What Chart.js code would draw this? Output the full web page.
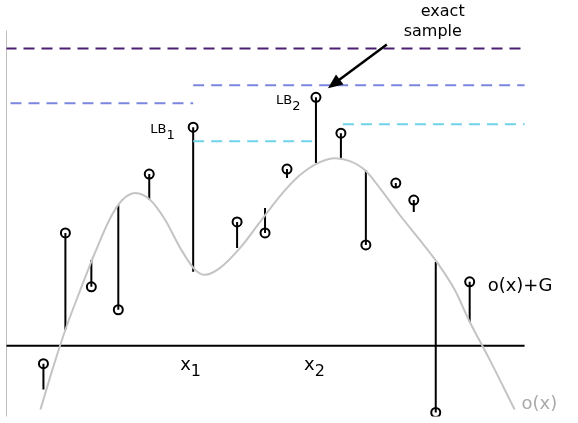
<!DOCTYPE html>
<html><head><script src="https://cdn.jsdelivr.net/npm/chart.js"></script>
<style>body{margin:0;background:#fff}</style></head><body>
<canvas id="c" width="578" height="423"></canvas>
<script>
const curveX=[40,52,65,80,95,110,122,135,150,165,180,195,205,220,240,260,280,300,320,335,350,365,380,400,420,437,455,470,490,515];
const curveY=[410,370,330,290,252,218,200,193,200,220,248,270,275,268,248,222,196,175,162,158,161,170,188,215,240,262,290,322,360,410];
const sampleX=[43,65,91,118,149,193,237,265,287,316,341,366,396,414,436,470];
const sampleY=[364,233,287,310,174,127,222,233,169,97,133,245,183,200,413,282];
const baseY=[390,330,260,205,200,272,248,208,178,163,159,170,188,212,262,322];
const dashes=[
 {y:48,x0:5,x1:525,c:'#4b1f6f'},
 {y:103,x0:10,x1:193,c:'#7b86e0'},
 {y:85,x0:193,x1:525,c:'#7b86e0'},
 {y:141,x0:193,x1:316,c:'#6fd3ea'},
 {y:124,x0:343,x1:525,c:'#6fd3ea'}];
const stems=[];
sampleX.forEach((x,i)=>{stems.push({x,y:sampleY[i]},{x,y:baseY[i]},{x:NaN,y:NaN});});
const ds=[];
ds.push({data:curveX.map((x,i)=>({x,y:curveY[i]})),showLine:true,borderColor:'#c4c4c4',borderWidth:2,pointRadius:0,tension:0.4,cubicInterpolationMode:'monotone'});
dashes.forEach(d=>ds.push({data:[{x:d.x0,y:d.y},{x:d.x1,y:d.y}],showLine:true,borderColor:d.c,borderWidth:2,borderDash:[11,7],pointRadius:0}));
ds.push({data:[{x:5,y:30},{x:5,y:418}],showLine:true,borderColor:'#000',borderWidth:2,pointRadius:0});
ds.push({data:[{x:5,y:346},{x:525,y:346}],showLine:true,borderColor:'#000',borderWidth:2,pointRadius:0});
ds.push({data:stems,showLine:true,spanGaps:false,borderColor:'#000',borderWidth:2,pointRadius:0});
ds.push({data:sampleX.map((x,i)=>({x,y:sampleY[i]})),showLine:false,pointRadius:4.5,pointBackgroundColor:'#fff',pointBorderColor:'#000',pointBorderWidth:2});
const labels={id:'lab',afterDraw(ch){const c=ch.ctx,sx=ch.scales.x,sy=ch.scales.y;
 const P=(x,y)=>[sx.getPixelForValue(x),sy.getPixelForValue(y)];
 c.save();c.fillStyle='#000';c.textBaseline='alphabetic';
 function sub(t,s,x,y,f,fs){c.font=f+'px "DejaVu Sans"';const [px,py]=P(x,y);c.fillText(t,px,py);const w=c.measureText(t).width;c.font=fs+'px "DejaVu Sans"';c.fillText(s,px+w,py+6);}
 sub('x','1',180,370,18,16);sub('x','2',304,370,18,16);
 sub('LB','1',150,133,13,13);sub('LB','2',276,104,13,13);
 c.font='16px "DejaVu Sans"';c.textAlign='center';
 let [a,b]=P(443,16);c.fillText('exact',a,b);[a,b]=P(433,36);c.fillText('sample',a,b);
 c.textAlign='left';c.font='18px "DejaVu Sans"';[a,b]=P(488,291);c.fillText('o(x)+G',a,b);
 c.fillStyle='#aaa';[a,b]=P(522,409);c.fillText('o(x)',a,b);
 c.strokeStyle='#000';c.lineWidth=2.5;const [x0,y0]=P(387,44),[x1,y1]=P(328,88);
 c.beginPath();c.moveTo(x0,y0);c.lineTo(x1+8,y1-6);c.stroke();
 const ang=Math.atan2(y1-y0,x1-x0);c.fillStyle='#000';c.beginPath();c.moveTo(x1,y1);
 c.lineTo(x1-16*Math.cos(ang-0.4),y1-16*Math.sin(ang-0.4));c.lineTo(x1-16*Math.cos(ang+0.4),y1-16*Math.sin(ang+0.4));c.closePath();c.fill();
 c.restore();}};
new Chart(document.getElementById('c'),{type:'scatter',data:{datasets:ds},plugins:[labels],
 options:{responsive:false,animation:false,layout:{padding:0},
 plugins:{legend:{display:false},tooltip:{enabled:false}},
 scales:{x:{type:'linear',min:6,max:572,display:false},y:{type:'linear',min:6,max:417,reverse:true,display:false}}}});
</script></body></html>
